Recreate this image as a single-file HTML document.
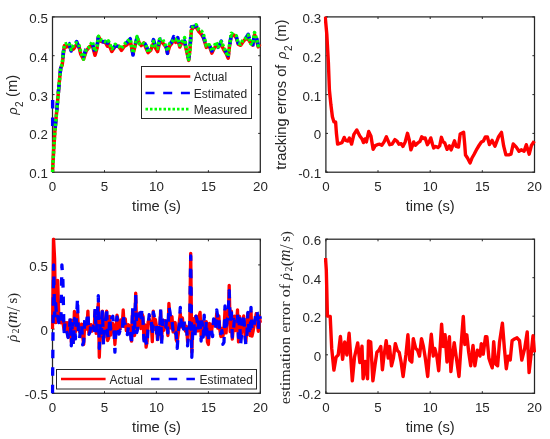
<!DOCTYPE html>
<html><head><meta charset="utf-8"><style>
html,body{margin:0;padding:0;background:#fff;width:550px;height:439px;overflow:hidden}
svg{display:block}
text{font-family:"Liberation Sans", Arial, Helvetica, sans-serif;font-size:13.33px;fill:#262626}
text.lab{font-size:14.67px}
text.leg{font-size:12px}
text.ser{font-family:"Liberation Serif", "Times New Roman", serif;font-size:14.67px}
</style></head><body>
<svg width="550" height="439" viewBox="0 0 550 439">
<rect width="550" height="439" fill="#fff"/>
<rect x="52.5" y="16.9" width="207.8" height="155.3" fill="none" stroke="#262626" stroke-width="1.25"/>
<line x1="52.5" y1="172.25" x2="52.5" y2="170.2" stroke="#262626" stroke-width="1"/>
<line x1="52.5" y1="16.9" x2="52.5" y2="19" stroke="#262626" stroke-width="1"/>
<line x1="104.5" y1="172.25" x2="104.5" y2="170.2" stroke="#262626" stroke-width="1"/>
<line x1="104.5" y1="16.9" x2="104.5" y2="19" stroke="#262626" stroke-width="1"/>
<line x1="156.4" y1="172.25" x2="156.4" y2="170.2" stroke="#262626" stroke-width="1"/>
<line x1="156.4" y1="16.9" x2="156.4" y2="19" stroke="#262626" stroke-width="1"/>
<line x1="208.4" y1="172.25" x2="208.4" y2="170.2" stroke="#262626" stroke-width="1"/>
<line x1="208.4" y1="16.9" x2="208.4" y2="19" stroke="#262626" stroke-width="1"/>
<line x1="260.4" y1="172.25" x2="260.4" y2="170.2" stroke="#262626" stroke-width="1"/>
<line x1="260.4" y1="16.9" x2="260.4" y2="19" stroke="#262626" stroke-width="1"/>
<line x1="52.55" y1="172.2" x2="54.6" y2="172.2" stroke="#262626" stroke-width="1"/>
<line x1="260.35" y1="172.2" x2="258.2" y2="172.2" stroke="#262626" stroke-width="1"/>
<line x1="52.55" y1="133.4" x2="54.6" y2="133.4" stroke="#262626" stroke-width="1"/>
<line x1="260.35" y1="133.4" x2="258.2" y2="133.4" stroke="#262626" stroke-width="1"/>
<line x1="52.55" y1="94.6" x2="54.6" y2="94.6" stroke="#262626" stroke-width="1"/>
<line x1="260.35" y1="94.6" x2="258.2" y2="94.6" stroke="#262626" stroke-width="1"/>
<line x1="52.55" y1="55.7" x2="54.6" y2="55.7" stroke="#262626" stroke-width="1"/>
<line x1="260.35" y1="55.7" x2="258.2" y2="55.7" stroke="#262626" stroke-width="1"/>
<line x1="52.55" y1="16.9" x2="54.6" y2="16.9" stroke="#262626" stroke-width="1"/>
<line x1="260.35" y1="16.9" x2="258.2" y2="16.9" stroke="#262626" stroke-width="1"/>
<rect x="325.9" y="16.9" width="208.6" height="155.3" fill="none" stroke="#262626" stroke-width="1.25"/>
<line x1="325.9" y1="172.25" x2="325.9" y2="170.2" stroke="#262626" stroke-width="1"/>
<line x1="325.9" y1="16.9" x2="325.9" y2="19" stroke="#262626" stroke-width="1"/>
<line x1="378" y1="172.25" x2="378" y2="170.2" stroke="#262626" stroke-width="1"/>
<line x1="378" y1="16.9" x2="378" y2="19" stroke="#262626" stroke-width="1"/>
<line x1="430.2" y1="172.25" x2="430.2" y2="170.2" stroke="#262626" stroke-width="1"/>
<line x1="430.2" y1="16.9" x2="430.2" y2="19" stroke="#262626" stroke-width="1"/>
<line x1="482.3" y1="172.25" x2="482.3" y2="170.2" stroke="#262626" stroke-width="1"/>
<line x1="482.3" y1="16.9" x2="482.3" y2="19" stroke="#262626" stroke-width="1"/>
<line x1="534.5" y1="172.25" x2="534.5" y2="170.2" stroke="#262626" stroke-width="1"/>
<line x1="534.5" y1="16.9" x2="534.5" y2="19" stroke="#262626" stroke-width="1"/>
<line x1="325.85" y1="172.2" x2="328" y2="172.2" stroke="#262626" stroke-width="1"/>
<line x1="534.45" y1="172.2" x2="532.4" y2="172.2" stroke="#262626" stroke-width="1"/>
<line x1="325.85" y1="133.4" x2="328" y2="133.4" stroke="#262626" stroke-width="1"/>
<line x1="534.45" y1="133.4" x2="532.4" y2="133.4" stroke="#262626" stroke-width="1"/>
<line x1="325.85" y1="94.6" x2="328" y2="94.6" stroke="#262626" stroke-width="1"/>
<line x1="534.45" y1="94.6" x2="532.4" y2="94.6" stroke="#262626" stroke-width="1"/>
<line x1="325.85" y1="55.7" x2="328" y2="55.7" stroke="#262626" stroke-width="1"/>
<line x1="534.45" y1="55.7" x2="532.4" y2="55.7" stroke="#262626" stroke-width="1"/>
<line x1="325.85" y1="16.9" x2="328" y2="16.9" stroke="#262626" stroke-width="1"/>
<line x1="534.45" y1="16.9" x2="532.4" y2="16.9" stroke="#262626" stroke-width="1"/>
<rect x="52.5" y="239.2" width="207.8" height="154.1" fill="none" stroke="#262626" stroke-width="1.25"/>
<line x1="52.5" y1="393.3" x2="52.5" y2="391.2" stroke="#262626" stroke-width="1"/>
<line x1="52.5" y1="239.2" x2="52.5" y2="241.3" stroke="#262626" stroke-width="1"/>
<line x1="104.5" y1="393.3" x2="104.5" y2="391.2" stroke="#262626" stroke-width="1"/>
<line x1="104.5" y1="239.2" x2="104.5" y2="241.3" stroke="#262626" stroke-width="1"/>
<line x1="156.4" y1="393.3" x2="156.4" y2="391.2" stroke="#262626" stroke-width="1"/>
<line x1="156.4" y1="239.2" x2="156.4" y2="241.3" stroke="#262626" stroke-width="1"/>
<line x1="208.4" y1="393.3" x2="208.4" y2="391.2" stroke="#262626" stroke-width="1"/>
<line x1="208.4" y1="239.2" x2="208.4" y2="241.3" stroke="#262626" stroke-width="1"/>
<line x1="260.4" y1="393.3" x2="260.4" y2="391.2" stroke="#262626" stroke-width="1"/>
<line x1="260.4" y1="239.2" x2="260.4" y2="241.3" stroke="#262626" stroke-width="1"/>
<line x1="52.55" y1="393.3" x2="54.6" y2="393.3" stroke="#262626" stroke-width="1"/>
<line x1="260.35" y1="393.3" x2="258.2" y2="393.3" stroke="#262626" stroke-width="1"/>
<line x1="52.55" y1="329.1" x2="54.6" y2="329.1" stroke="#262626" stroke-width="1"/>
<line x1="260.35" y1="329.1" x2="258.2" y2="329.1" stroke="#262626" stroke-width="1"/>
<line x1="52.55" y1="264.9" x2="54.6" y2="264.9" stroke="#262626" stroke-width="1"/>
<line x1="260.35" y1="264.9" x2="258.2" y2="264.9" stroke="#262626" stroke-width="1"/>
<rect x="325.9" y="239.2" width="208.6" height="154.1" fill="none" stroke="#262626" stroke-width="1.25"/>
<line x1="325.9" y1="393.3" x2="325.9" y2="391.2" stroke="#262626" stroke-width="1"/>
<line x1="325.9" y1="239.2" x2="325.9" y2="241.3" stroke="#262626" stroke-width="1"/>
<line x1="378" y1="393.3" x2="378" y2="391.2" stroke="#262626" stroke-width="1"/>
<line x1="378" y1="239.2" x2="378" y2="241.3" stroke="#262626" stroke-width="1"/>
<line x1="430.2" y1="393.3" x2="430.2" y2="391.2" stroke="#262626" stroke-width="1"/>
<line x1="430.2" y1="239.2" x2="430.2" y2="241.3" stroke="#262626" stroke-width="1"/>
<line x1="482.3" y1="393.3" x2="482.3" y2="391.2" stroke="#262626" stroke-width="1"/>
<line x1="482.3" y1="239.2" x2="482.3" y2="241.3" stroke="#262626" stroke-width="1"/>
<line x1="534.5" y1="393.3" x2="534.5" y2="391.2" stroke="#262626" stroke-width="1"/>
<line x1="534.5" y1="239.2" x2="534.5" y2="241.3" stroke="#262626" stroke-width="1"/>
<line x1="325.85" y1="393.3" x2="328" y2="393.3" stroke="#262626" stroke-width="1"/>
<line x1="534.45" y1="393.3" x2="532.4" y2="393.3" stroke="#262626" stroke-width="1"/>
<line x1="325.85" y1="354.8" x2="328" y2="354.8" stroke="#262626" stroke-width="1"/>
<line x1="534.45" y1="354.8" x2="532.4" y2="354.8" stroke="#262626" stroke-width="1"/>
<line x1="325.85" y1="316.2" x2="328" y2="316.2" stroke="#262626" stroke-width="1"/>
<line x1="534.45" y1="316.2" x2="532.4" y2="316.2" stroke="#262626" stroke-width="1"/>
<line x1="325.85" y1="277.7" x2="328" y2="277.7" stroke="#262626" stroke-width="1"/>
<line x1="534.45" y1="277.7" x2="532.4" y2="277.7" stroke="#262626" stroke-width="1"/>
<line x1="325.85" y1="239.2" x2="328" y2="239.2" stroke="#262626" stroke-width="1"/>
<line x1="534.45" y1="239.2" x2="532.4" y2="239.2" stroke="#262626" stroke-width="1"/>
<clipPath id="cA1"><rect x="50.55" y="14.899999999999999" width="211.8" height="159.35"/></clipPath>
<clipPath id="cA2"><rect x="323.85" y="14.899999999999999" width="212.60000000000002" height="159.35"/></clipPath>
<clipPath id="cA3"><rect x="50.55" y="237.2" width="211.8" height="158.10000000000002"/></clipPath>
<clipPath id="cA4"><rect x="323.85" y="237.2" width="212.60000000000002" height="158.10000000000002"/></clipPath>
<g clip-path="url(#cA1)"><polyline points="52.5,172 53.7,150 54.9,131 56.8,110 59.4,81 60.7,68 62.2,65.1 63.4,53.8 64.5,45.4 66.4,46.9 69.1,45.4 71.2,50.3 73.9,48.7 76.6,44.3 78.7,45.6 80.7,54.2 83.5,59.2 86.2,51 89.6,46.7 92.3,45 95,55.3 97.1,48 98.5,36.6 101.2,41.3 105.3,42.5 107.4,46.2 108.4,43.4 111.8,51.5 115.2,46.3 118.7,46.2 121.4,50.4 124.1,46.4 126.9,44.7 130.3,41 131.6,47.4 133,54 135,46 137.1,38.1 139.2,42.6 141.2,45.6 143.9,42.9 146,48.1 148,52.6 150.8,50.2 153.5,43.2 155.5,47.9 157.6,51.6 159.6,42.1 162.4,42.5 166.1,47.2 167.5,53.2 169.6,46.3 171.6,43.7 173.7,39.4 175.7,42.4 177.8,39.4 179.8,47 181.9,42.2 184.6,42.6 186.6,51 188.7,60.4 190,49.4 191.4,30.2 193.5,27.3 196.2,27.1 198.9,31.5 201.7,34.6 203.7,38.4 206.4,47.4 209.2,45.6 211.9,53.1 214,48.5 216,46 218.1,46.9 221.3,44.5 223.8,49.8 226.3,53.9 228.2,58.2 229.4,47 231.3,35.8 233.8,34.9 236.3,37.8 238.2,44.1 240.7,45.3 243.2,41.6 245.7,38.7 248.2,39.1 250.7,43.1 252.6,45.1 254.5,34.7 256.4,39.7 258.2,46.9 260,44.1" fill="none" stroke="#ff0000" stroke-width="3.5" stroke-linejoin="round"/><polyline points="52.6,100 52.7,128 54.9,131 56.8,110 59.4,81 60.7,68 62.2,63.2 63.4,51.8 64.5,45.5 66.4,44.2 69.1,43.6 71.2,51 73.9,46.6 76.6,41.5 78.7,46.6 80.7,53.1 83.5,56.3 86.2,48.1 89.6,45 92.3,43.1 95,52.7 97.1,45.3 98.5,35.2 101.2,41.8 105.3,41.4 107.4,43.1 108.4,42.6 111.8,50.2 115.2,45.6 118.7,46.7 121.4,48.6 124.1,44.5 126.9,42.5 130.3,38.7 131.6,46.7 133,55.1 135,44.9 137.1,37.5 139.2,41.6 141.2,42.4 143.9,41.7 146,45.6 148,49.9 150.8,48.3 153.5,39.6 155.5,46.4 157.6,49.5 159.6,39.3 162.4,38.8 166.1,46 167.5,53.4 169.6,43.9 171.6,42.1 173.7,36.6 175.7,42.6 177.8,37.5 179.8,47.1 181.9,41.6 184.6,40.9 186.6,50.8 188.7,58.7 190,46.5 191.4,26.8 193.5,26.6 196.2,25.6 198.9,30.6 201.7,32.3 203.7,37.7 206.4,46.5 209.2,44.5 211.9,51 214,46.3 216,44.2 218.1,47.3 221.3,41 223.8,48 226.3,52.1 228.2,55.6 229.4,47.1 231.3,34.1 233.8,32.4 236.3,36.4 238.2,43.2 240.7,43.1 243.2,40 245.7,38.3 248.2,34.3 250.7,43 252.6,46.5 254.5,33.8 256.4,36.7 258.2,45.5 260,41.7" fill="none" stroke="#0000ff" stroke-width="3.5" stroke-linejoin="round" stroke-dasharray="8.5 9"/><polyline points="52.5,172 53.7,150 54.9,131 56.8,110 59.4,81 60.7,68 62.2,63.7 63.4,51.8 64.5,44.3 66.4,43.6 69.1,43 71.2,49.5 73.9,44.7 76.6,42.8 78.7,44.3 80.7,51.6 83.5,59.2 86.2,49.2 89.6,46.8 92.3,41.5 95,51.1 97.1,47.5 98.5,36.2 101.2,40 105.3,41.5 107.4,42.3 108.4,40.9 111.8,48.7 115.2,44.2 118.7,46.1 121.4,48.6 124.1,44.8 126.9,41.5 130.3,39.1 131.6,45.8 133,53 135,45.8 137.1,36.5 139.2,43.7 141.2,41.9 143.9,43.5 146,44.8 148,52.3 150.8,48.7 153.5,41.4 155.5,46.5 157.6,48.4 159.6,39.2 162.4,38.8 166.1,47 167.5,51.1 169.6,43.7 171.6,42.3 173.7,39.1 175.7,39.7 177.8,38.5 179.8,45.3 181.9,42.2 184.6,37.6 186.6,50.1 188.7,59.6 190,49.5 191.4,29.1 193.5,25.7 196.2,24.7 198.9,29.9 201.7,31.3 203.7,35.3 206.4,45.9 209.2,44.7 211.9,51 214,47.7 216,41.9 218.1,47 221.3,41.7 223.8,47.2 226.3,52.8 228.2,56.3 229.4,45.7 231.3,33.2 233.8,35 236.3,35.7 238.2,43.4 240.7,44.2 243.2,39.4 245.7,38.2 248.2,35.1 250.7,43.6 252.6,44.5 254.5,32.4 256.4,38.3 258.2,45.7 260,43.3" fill="none" stroke="#00ff00" stroke-width="3.5" stroke-linejoin="round" stroke-dasharray="2.6 2"/></g>
<g clip-path="url(#cA2)"><polyline points="325.2,16.6 326.8,34.1 328.4,62.8 329.4,90 330.9,104.8 332.4,116.7 333.9,121.9 335.6,121.9 336.4,133 337.6,144.1 339.8,143.3 342,142.6 344.2,137.4 345.7,140.4 347.9,141.1 349.4,138.1 351.6,144.1 353.9,134.4 356.8,130 359.8,135.9 362,138.9 363.5,142.6 365,138.9 366.4,141.9 368.7,131.5 370.9,135.9 373.1,149.3 375.3,145.6 377.3,144.7 379.6,144.2 381.8,145.3 384.1,141.9 386.4,136.8 388.1,140.8 389.8,144.7 392.1,144.2 394.9,139.6 397.2,141.3 398.9,144.2 401.2,143.6 402.9,146.4 405.2,141.9 407.5,133.3 409.2,139.6 410.9,149.9 412,147 413.7,141.9 415.4,145.3 417.7,143 420,141.3 421.7,136.8 423.4,138.5 425.1,137.9 427.4,144.7 429.1,141.9 430.8,137.9 432.5,144.2 433.7,148 435.7,146.4 438,147.6 439.7,145.9 441.4,137.3 443.1,141.9 444.8,143 447.1,149.3 449.4,145.9 451.1,149.9 452.8,145.3 454.5,140.8 456.2,146.4 458.5,147 460.2,133.9 463.6,132.2 464.7,144.2 465.5,155 467.5,158 470.1,163 472,158 474,154.5 477,148.8 479,145.5 481.4,142 483.4,141 485.3,137 487.4,137 489.4,144.5 492.1,140.4 495,146.2 498.6,136.7 501.5,132.4 503.7,146.2 505.9,154.9 508.8,154.9 511,154.2 513.2,144 516.1,146.9 519,151.3 521.2,149.8 524.1,151.3 526.3,144.7 529.2,154.2 531.4,145.5 534.3,141.1" fill="none" stroke="#ff0000" stroke-width="3.4" stroke-linejoin="round"/></g>
<g clip-path="url(#cA3)"><polyline points="52.5,329.1 53.6,239.2 54.6,258.5 55.7,322.7 56.7,309.8 57.7,280.3 58.8,316.2 59.8,321.4 60.9,322.7 61.9,318.8 62.9,322.7 64,329.1 65,322.7 66.1,331.7 67.1,322.7 68.1,337 69.2,330.3 70.2,319.8 71.3,341.9 72.3,320.7 73.3,341.9 74.4,311.4 75.4,331.8 76.4,314 77.5,313.7 78.5,329.1 79.6,331.9 80.6,329.6 81.6,324.1 82.7,337 83.7,344.5 84.8,322.3 85.8,328 86.8,328.9 87.9,311.1 88.9,333 90,328 91,324.7 92,331.2 93.1,327.3 94.1,328.8 95.1,311.1 96.2,333.3 97.2,322.2 98.3,303.4 99.3,357.3 100.3,329.1 101.4,327.7 102.4,311.1 103.5,341.9 104.5,322.3 105.5,323.4 106.6,311.1 107.6,340.5 108.7,338.3 109.7,316.3 110.7,335 111.8,325.6 112.8,323.5 113.9,326.2 114.9,344.5 115.9,330.6 117,315.1 118,320.5 119,329 120.1,328.8 121.1,320 122.2,325.9 123.2,309.8 124.2,326.3 125.3,318.8 126.3,330.7 127.4,327.1 128.4,324.7 129.4,327.6 130.5,326.1 131.5,341.1 132.6,311.1 133.6,332 134.6,335.5 135.7,293.1 136.7,328.3 137.7,325.6 138.8,319.1 139.8,313 140.9,328.5 141.9,313.8 142.9,316.2 144,338.8 145,324.9 146.1,347.1 147.1,341.5 148.1,321.8 149.2,319 150.2,322.1 151.3,324.2 152.3,341.7 153.3,311.1 154.4,329.4 155.4,319.5 156.4,326 157.5,339.5 158.5,331.3 159.6,333.4 160.6,311.1 161.6,339.6 162.7,322.4 163.7,330.3 164.8,320.6 165.8,325.5 166.8,325 167.9,335.5 168.9,303.4 170,318.3 171,328.2 172,316.6 173.1,331.8 174.1,328.7 175.2,322.5 176.2,339.9 177.2,341.9 178.3,333.2 179.3,321.4 180.3,313.3 181.4,326.8 182.4,317.9 183.5,328.6 184.5,323.5 185.5,331.2 186.6,326.5 187.6,341.9 188.7,328.5 189.7,329.1 190.7,253.3 191.8,352.2 192.8,322.7 193.9,318.7 194.9,332.3 195.9,316.1 197,316.7 198,331 199,316.4 200.1,312.4 201.1,335.9 202.2,321.4 203.2,335 204.2,321.9 205.3,332 206.3,321.7 207.4,341.9 208.4,344.5 209.4,323.3 210.5,330.6 211.5,331.5 212.6,324.3 213.6,322.5 214.6,325.2 215.7,324.1 216.7,313.7 217.8,328 218.8,315.8 219.8,329.5 220.9,336.5 221.9,328.5 222.9,336.4 224,329.7 225,309.8 226.1,332.8 227.1,315.3 228.1,322.7 229.2,285.4 230.2,331.7 231.3,311.1 232.3,339.2 233.3,328.7 234.4,316.2 235.4,330.5 236.5,324.8 237.5,309.8 238.5,341.9 239.6,316.4 240.6,339.1 241.6,331.5 242.7,330.5 243.7,316 244.8,332.3 245.8,341.9 246.8,329.9 247.9,313.4 248.9,324.6 250,335.7 251,311.1 252,336.2 253.1,331.2 254.1,325.4 255.2,319.9 256.2,313.7 257.2,322.9 258.3,331.4 259.3,316.2 260.4,322.7" fill="none" stroke="#ff0000" stroke-width="3.3" stroke-linejoin="round"/><polyline points="52.5,393.3 53.6,264.9 54.6,316.2 55.7,303.4 56.7,318.8 57.7,316.2 58.8,322.7 59.8,318.8 60.9,322.7 61.9,264.9 62.9,280.3 64,331.7 65,322.7 66.1,329.1 67.1,332.9 68.1,337.5 69.2,333.9 70.2,318.4 71.3,345.8 72.3,323.7 73.3,345.8 74.4,318.5 75.4,338.8 76.4,320.1 77.5,298.3 78.5,335.5 79.6,338.9 80.6,326.2 81.6,323.5 82.7,344.8 83.7,341.9 84.8,319.2 85.8,326.3 86.8,320.3 87.9,312.3 88.9,334.3 90,332 91,323.9 92,328.3 93.1,326.2 94.1,330.3 95.1,307.8 96.2,332.7 97.2,320.7 98.3,295.7 99.3,348.4 100.3,322.7 101.4,333.2 102.4,309.9 103.5,345.8 104.5,327.3 105.5,322.5 106.6,307.3 107.6,334.6 108.7,338.3 109.7,317.4 110.7,329.2 111.8,317.4 112.8,316.3 113.9,327.3 114.9,352.2 115.9,329.5 117,317 118,322.2 119,334.1 120.1,330.2 121.1,332.8 122.2,333 123.2,313.7 124.2,323.8 125.3,324.3 126.3,327.5 127.4,334.7 128.4,326.9 129.4,325.3 130.5,332.2 131.5,345.3 132.6,307.3 133.6,336 134.6,329.1 135.7,294.4 136.7,332.5 137.7,329 138.8,318.9 139.8,313.2 140.9,322.7 141.9,309.2 142.9,318.5 144,340.9 145,333.3 146.1,341.9 147.1,345.8 148.1,326.1 149.2,314.7 150.2,321.4 151.3,319.4 152.3,336.1 153.3,312.1 154.4,316.9 155.4,322.6 156.4,329.7 157.5,342.1 158.5,324.6 159.6,334.2 160.6,308.5 161.6,344 162.7,319.9 163.7,323.6 164.8,321.3 165.8,327 166.8,318.6 167.9,332.9 168.9,306 170,312.5 171,322.6 172,321.1 173.1,330.1 174.1,326.6 175.2,333.1 176.2,332.8 177.2,348.4 178.3,332.7 179.3,323.4 180.3,307.3 181.4,325.9 182.4,322.1 183.5,329 184.5,320.2 185.5,326.4 186.6,326.8 187.6,345.8 188.7,332.7 189.7,322.7 190.7,255.9 191.8,357.3 192.8,329.1 193.9,323.5 194.9,338.5 195.9,316.2 197,319.6 198,330.7 199,321.3 200.1,316.2 201.1,341 202.2,322.5 203.2,337 204.2,315.1 205.3,337.4 206.3,320.4 207.4,342.2 208.4,339.4 209.4,331.1 210.5,326.3 211.5,330.5 212.6,336.6 213.6,319 214.6,319.6 215.7,328.8 216.7,309.8 217.8,318 218.8,314.9 219.8,336.3 220.9,333.2 221.9,330.6 222.9,344.3 224,342.3 225,306 226.1,331.3 227.1,319.6 228.1,316.2 229.2,290.6 230.2,322.7 231.3,307.3 232.3,337 233.3,331.8 234.4,319.3 235.4,320.1 236.5,314.7 237.5,313.7 238.5,337.5 239.6,318.5 240.6,344.9 241.6,333.8 242.7,320.6 243.7,313.3 244.8,334 245.8,344.5 246.8,337.1 247.9,312.4 248.9,329.8 250,335.6 251,307.3 252,329.9 253.1,330.4 254.1,327.5 255.2,318.5 256.2,309.8 257.2,312.2 258.3,329.2 259.3,313.7 260.4,318.8" fill="none" stroke="#0000ff" stroke-width="3.3" stroke-linejoin="round" stroke-dasharray="8.5 9"/></g>
<g clip-path="url(#cA4)"><polyline points="325.5,258 326.3,270 326.8,290 327.4,316 330.2,316.4 331.7,348.4 333.9,370.1 336.1,357.1 338.2,355 340.4,336.5 342.6,359.3 344.7,342 346.9,355 349.1,333.3 351.2,363.6 352.3,380.9 354.5,357.1 357.7,343 359.9,362.5 362,346.3 363.1,378.7 365.3,361.4 367.5,378.7 368.5,340.9 370.7,342 372.9,380.9 375,365 376.9,352.3 378.9,350.3 380.8,346.5 382.4,369.7 383.7,358.1 386.2,340.7 388.2,358.1 389.5,346.5 391.5,365.8 393.4,358.1 395.3,343.6 397.3,350.3 399.2,352.3 401.1,362 403.1,376.5 406,354.2 407.9,334.8 409.8,360 411.8,362 413.3,338.7 415.7,348.4 417.6,350.3 419.5,356.1 421.5,338.7 423.4,346.5 425.3,358.1 427.7,376.5 429.2,356.1 431.3,334.3 433.3,356 434.8,348.4 436.8,356.1 438.7,370.7 441.6,324.2 443.2,346.5 445.1,334.8 447,362 449.4,336.8 450.9,371.6 452.3,358.1 454.2,342.6 456.1,356.1 459,376.5 461,346.5 463.3,316.5 464.8,344.5 466.8,334.8 468.7,352.3 470.7,365.8 473,345.5 474.9,365.8 477.4,350.3 480,356.1 481.3,343.6 483.2,354.2 485.5,336.8 486.9,336.8 488.9,358.1 490.8,363.9 492.2,367.8 493.7,341.6 495.6,363.9 497.6,365.8 499.5,342.6 502.4,323.2 504.4,348.4 506.3,368.7 508.2,356.1 510.2,360 512.1,340.7 515,338.7 517,337.8 519.5,340.7 521.8,360 524.7,348.4 527.2,331.9 529.1,372.6 531.1,354.2 533,335.8 534.4,352.3" fill="none" stroke="#ff0000" stroke-width="3.4" stroke-linejoin="round"/></g>
<rect x="141.5" y="66.5" width="110" height="52" fill="#fff" stroke="#262626" stroke-width="1"/>
<line x1="145.5" y1="76.5" x2="190.3" y2="76.5" stroke="#ff0000" stroke-width="2.7"/>
<line x1="145.5" y1="93" x2="190.3" y2="93" stroke="#0000ff" stroke-width="2.7" stroke-dasharray="9 8.7"/>
<line x1="145.5" y1="109.2" x2="190.3" y2="109.2" stroke="#00ff00" stroke-width="2.7" stroke-dasharray="2.5 2"/>
<rect x="56.5" y="369.5" width="200" height="19.5" fill="#fff" stroke="#262626" stroke-width="1"/>
<line x1="61" y1="379" x2="105.6" y2="379" stroke="#ff0000" stroke-width="2.7"/>
<line x1="151" y1="379" x2="195.6" y2="379" stroke="#0000ff" stroke-width="2.7" stroke-dasharray="8.5 9.2"/>
<text x="52.5" y="191.25" text-anchor="middle">0</text>
<text x="104.5" y="191.25" text-anchor="middle">5</text>
<text x="156.4" y="191.25" text-anchor="middle">10</text>
<text x="208.4" y="191.25" text-anchor="middle">15</text>
<text x="260.4" y="191.25" text-anchor="middle">20</text>
<text x="47.8" y="178.2" text-anchor="end">0.1</text>
<text x="47.8" y="139.3" text-anchor="end">0.2</text>
<text x="47.8" y="100.5" text-anchor="end">0.3</text>
<text x="47.8" y="61.6" text-anchor="end">0.4</text>
<text x="47.8" y="22.8" text-anchor="end">0.5</text>
<text class="lab" x="156.5" y="210.8" text-anchor="middle">time (s)</text>
<text x="325.9" y="191.25" text-anchor="middle">0</text>
<text x="378" y="191.25" text-anchor="middle">5</text>
<text x="430.2" y="191.25" text-anchor="middle">10</text>
<text x="482.3" y="191.25" text-anchor="middle">15</text>
<text x="534.5" y="191.25" text-anchor="middle">20</text>
<text x="321.1" y="178.2" text-anchor="end">-0.1</text>
<text x="321.1" y="139.3" text-anchor="end">0</text>
<text x="321.1" y="100.5" text-anchor="end">0.1</text>
<text x="321.1" y="61.6" text-anchor="end">0.2</text>
<text x="321.1" y="22.8" text-anchor="end">0.3</text>
<text class="lab" x="430.2" y="210.8" text-anchor="middle">time (s)</text>
<text x="52.5" y="412.3" text-anchor="middle">0</text>
<text x="104.5" y="412.3" text-anchor="middle">5</text>
<text x="156.4" y="412.3" text-anchor="middle">10</text>
<text x="208.4" y="412.3" text-anchor="middle">15</text>
<text x="260.4" y="412.3" text-anchor="middle">20</text>
<text x="47.8" y="399.2" text-anchor="end">-0.5</text>
<text x="47.8" y="335" text-anchor="end">0</text>
<text x="47.8" y="270.8" text-anchor="end">0.5</text>
<text class="lab" x="156.5" y="431.8" text-anchor="middle">time (s)</text>
<text x="325.9" y="412.3" text-anchor="middle">0</text>
<text x="378" y="412.3" text-anchor="middle">5</text>
<text x="430.2" y="412.3" text-anchor="middle">10</text>
<text x="482.3" y="412.3" text-anchor="middle">15</text>
<text x="534.5" y="412.3" text-anchor="middle">20</text>
<text x="321.1" y="399.2" text-anchor="end">-0.2</text>
<text x="321.1" y="360.7" text-anchor="end">0</text>
<text x="321.1" y="322.1" text-anchor="end">0.2</text>
<text x="321.1" y="283.6" text-anchor="end">0.4</text>
<text x="321.1" y="245.1" text-anchor="end">0.6</text>
<text class="lab" x="430.2" y="431.8" text-anchor="middle">time (s)</text>
<text class="leg" x="193.8" y="81.3">Actual</text>
<text class="leg" x="193.8" y="97.9">Estimated</text>
<text class="leg" x="193.8" y="114">Measured</text>
<text class="leg" x="109.6" y="383.7">Actual</text>
<text class="leg" x="199.6" y="383.7">Estimated</text>
<text class="lab" transform="translate(16.8,115) rotate(-90)"><tspan x="0.3" font-style="italic" font-size="12.8">ρ</tspan><tspan x="8" y="6.3" font-size="10">2</tspan><tspan x="18.1" y="0">(m)</tspan></text>
<text class="lab" transform="translate(285.8,169.7) rotate(-90)"><tspan x="0">tracking erros of</tspan><tspan x="110.6" font-style="italic" font-size="12.8">ρ</tspan><tspan x="118.6" y="6" font-size="10">2</tspan><tspan x="128.05" y="0">(m)</tspan></text>
<text class="ser" transform="translate(17.2,341.7) rotate(-90)"><tspan x="0" font-style="italic">ρ</tspan><tspan x="2.2" y="0">˙</tspan><tspan x="8.3" y="2" font-size="10">2</tspan><tspan x="13.7" y="0.6" font-size="15.5">(</tspan><tspan x="18.6" y="0" font-style="italic" font-size="16.3">m</tspan><tspan x="30.3" y="2.3" font-size="18">/</tspan><tspan x="38.2" y="0">s</tspan><tspan x="43.7" y="0.6" font-size="15.5">)</tspan></text>
<text class="ser" transform="translate(290.2,279.9) rotate(-90)"><tspan x="0" font-style="italic">ρ</tspan><tspan x="2.2" y="0">˙</tspan><tspan x="8.3" y="2" font-size="10">2</tspan><tspan x="13.7" y="0.6" font-size="15.5">(</tspan><tspan x="18.6" y="0" font-style="italic" font-size="16.3">m</tspan><tspan x="30.3" y="2.3" font-size="18">/</tspan><tspan x="38.2" y="0">s</tspan><tspan x="43.7" y="0.6" font-size="15.5">)</tspan></text>
<text class="ser" transform="translate(290.2,279.9) rotate(-90)" x="-124.3" textLength="120.3" lengthAdjust="spacingAndGlyphs">estimation error of</text>
</svg>
</body></html>
